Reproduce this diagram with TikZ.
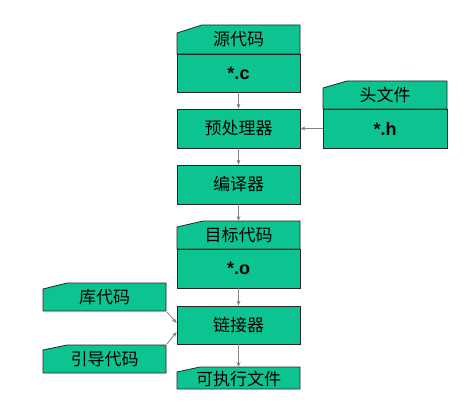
\documentclass[tikz,border=0pt]{standalone}
\usepackage{fontspec}
\setmainfont{Liberation Sans}
\newfontfamily\cjk{Noto Sans CJK SC}
\usetikzlibrary{arrows.meta}

\definecolor{boxgreen}{RGB}{12,196,146}
\definecolor{linegray}{RGB}{130,130,130}

\tikzset{
  box/.style={draw=black!85, fill=boxgreen, line width=0.8pt, inner sep=0pt,
    minimum width=123pt, minimum height=38pt, font=\cjk\fontsize{17}{19}\selectfont},
  card/.style={draw=black!85, fill=boxgreen, line width=0.8pt},
  txt/.style={inner sep=0pt, font=\cjk\fontsize{17}{19}\selectfont},
  ext/.style={box, font=\bfseries\fontsize{18}{20}\selectfont},
  flow/.style={-{Stealth[length=5pt,width=4pt]}, draw=linegray, line width=0.8pt}
}

\begin{document}
\begin{tikzpicture}[x=1pt,y=-1pt]
  \useasboundingbox[fill=white] (0,0) rectangle (474,409);

  % main column
  \filldraw[card] (177,33) -- (202,25) -- (300,25) -- (300,54) -- (177,54) -- cycle;
  \node[txt] (srchead) at (238.5,39.5) {源代码};
  \node[ext, minimum height=38pt] (src) at (238.5,73) {*.c};

  \node[box, minimum height=39pt] (pre) at (238.5,128.5) {预处理器};
  \node[box, minimum height=39pt] (comp) at (238.5,184.5) {编译器};

  \filldraw[card] (177,227) -- (203,221) -- (300,221) -- (300,249) -- (177,249) -- cycle;
  \node[txt] (objhead) at (238.5,235) {目标代码};
  \node[ext, minimum height=39pt] (obj) at (238.5,268.5) {*.o};

  \node[box, minimum height=38pt] (link) at (238.5,325) {链接器};

  \filldraw[card] (177,372) -- (200,367) -- (300,367) -- (300,389) -- (177,389) -- cycle;
  \node[txt] (exe) at (238.5,379) {可执行文件};

  % header file
  \filldraw[card] (323,88) -- (347,81) -- (447,81) -- (447,109) -- (323,109) -- cycle;
  \node[txt] (hdrhead) at (385,95) {头文件};
  \node[ext, minimum width=124pt, minimum height=39pt] (hdr) at (385,128.5) {*.h};

  % libraries
  \filldraw[card] (43,289) -- (67,283) -- (166,283) -- (166,311) -- (43,311) -- cycle;
  \node[txt] (lib) at (104.5,297) {库代码};
  \filldraw[card] (43,350) -- (67,345) -- (166,345) -- (166,373) -- (43,373) -- cycle;
  \node[txt] (boot) at (104.5,359) {引导代码};

  \coordinate (libc) at (167,312);
  \coordinate (bootc) at (167,344);
  \coordinate (exetop) at (238.5,367);
  \coordinate (objtop) at (238.5,221);

  \draw[flow] (src) -- (pre);
  \draw[flow] (pre) -- (comp);
  \draw[flow] (comp) -- (objtop);
  \draw[flow] (obj) -- (link);
  \draw[flow] (link) -- (exetop);
  \draw[flow] (hdr) -- (pre);
  \draw[flow] (libc) -- ([yshift=2pt]link.west);
  \draw[flow] (bootc) -- ([yshift=-7pt]link.west);
\end{tikzpicture}
\end{document}
